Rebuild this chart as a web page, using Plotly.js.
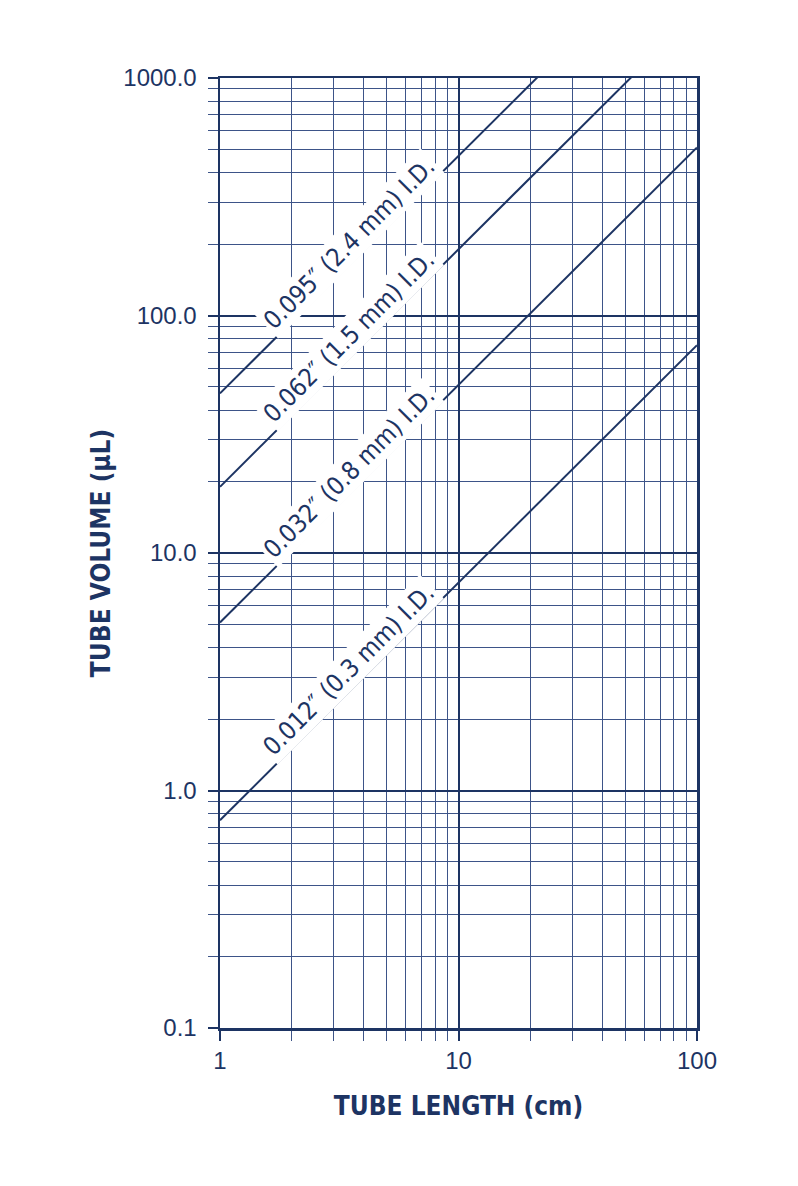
<!DOCTYPE html>
<html>
<head>
<meta charset="utf-8">
<script src="https://cdn.plot.ly/plotly-3.0.1.min.js"></script>
<style>html,body{margin:0;padding:0;background:#fff;}#chart{width:798px;height:1186px;}</style>
</head>
<body>
<div id="chart"></div>
<script>
// Tube length (cm) endpoints
const lengths = [1, 100];
// Tube volume (µL) for each inner diameter, at the two lengths
const vol095 = [47, 4700];
const vol062 = [19, 1900];
const vol032 = [5.1, 510];
const vol012 = [0.75, 75];
const seriesNames = ['0.095″ (2.4 mm) I.D.', '0.062″ (1.5 mm) I.D.', '0.032″ (0.8 mm) I.D.', '0.012″ (0.3 mm) I.D.'];
const labelLength = 3.47;

const xMajor = [1, 10, 100];
const xMajorText = ['1', '10', '100'];
const xMinor = [2,3,4,5,6,7,8,9,20,30,40,50,60,70,80,90];
const yMajor = [0.1, 1, 10, 100, 1000];
const yMajorText = ['0.1', '1.0', '10.0', '100.0', '1000.0'];
const yMinor = [0.2,0.3,0.4,0.5,0.6,0.7,0.8,0.9,2,3,4,5,6,7,8,9,20,30,40,50,60,70,80,90,200,300,400,500,600,700,800,900];

const navy = '#1d3463';
const gridMinor = '#3d5488';
const condensed = 'DejaVu Sans Condensed, DejaVu Sans, sans-serif';
const all = [vol095, vol062, vol032, vol012];

const traces = all.map((v, i) => ({
  x: lengths, y: v, type: 'scatter', mode: 'lines', name: seriesNames[i],
  line: {color: navy, width: 2}, hoverinfo: 'skip', cliponaxis: true
}));

const annotations = all.map((v, i) => ({
  x: Math.log10(labelLength), y: Math.log10(v[0] * labelLength),
  xref: 'x', yref: 'y', text: seriesNames[i], showarrow: false,
  textangle: -45, yshift: 22, bgcolor: '#ffffff', borderpad: 2,
  font: {family: condensed, size: 25, color: navy}
}));

const axisCommon = {
  type: 'log', showline: true, mirror: true, linecolor: navy, linewidth: 2.5,
  showgrid: true, gridcolor: navy, gridwidth: 2,
  ticks: 'outside', ticklen: 10, tickcolor: navy, tickwidth: 2,
  tickfont: {family: 'Liberation Sans, Arial, sans-serif', size: 24, color: navy},
  zeroline: false, tickmode: 'array'
};

const layout = {
  width: 798, height: 1186,
  margin: {l: 220, r: 101, t: 78, b: 158},
  paper_bgcolor: '#ffffff', plot_bgcolor: '#ffffff',
  showlegend: false,
  xaxis: Object.assign({}, axisCommon, {
    range: [0, 2], tickvals: xMajor, ticktext: xMajorText,
    minor: {tickvals: xMinor, showgrid: true, gridcolor: gridMinor, gridwidth: 1, ticks: 'outside', ticklen: 10, tickcolor: gridMinor, tickwidth: 1},
    title: {text: 'TUBE LENGTH (cm)', standoff: 24,
      font: {family: condensed, size: 26, color: navy, weight: 'bold'}}
  }),
  yaxis: Object.assign({}, axisCommon, {
    range: [-1, 3], tickvals: yMajor, ticktext: yMajorText, ticklabelstandoff: 6,
    minor: {tickvals: yMinor, showgrid: true, gridcolor: gridMinor, gridwidth: 1, ticks: 'outside', ticklen: 10, tickcolor: gridMinor, tickwidth: 1},
    title: {text: 'TUBE VOLUME (µL)', standoff: 5,
      font: {family: condensed, size: 26, color: navy, weight: 'bold'}}
  }),
  annotations: annotations
};

Plotly.newPlot('chart', traces, layout, {staticPlot: true, displayModeBar: false});
</script>
</body>
</html>
